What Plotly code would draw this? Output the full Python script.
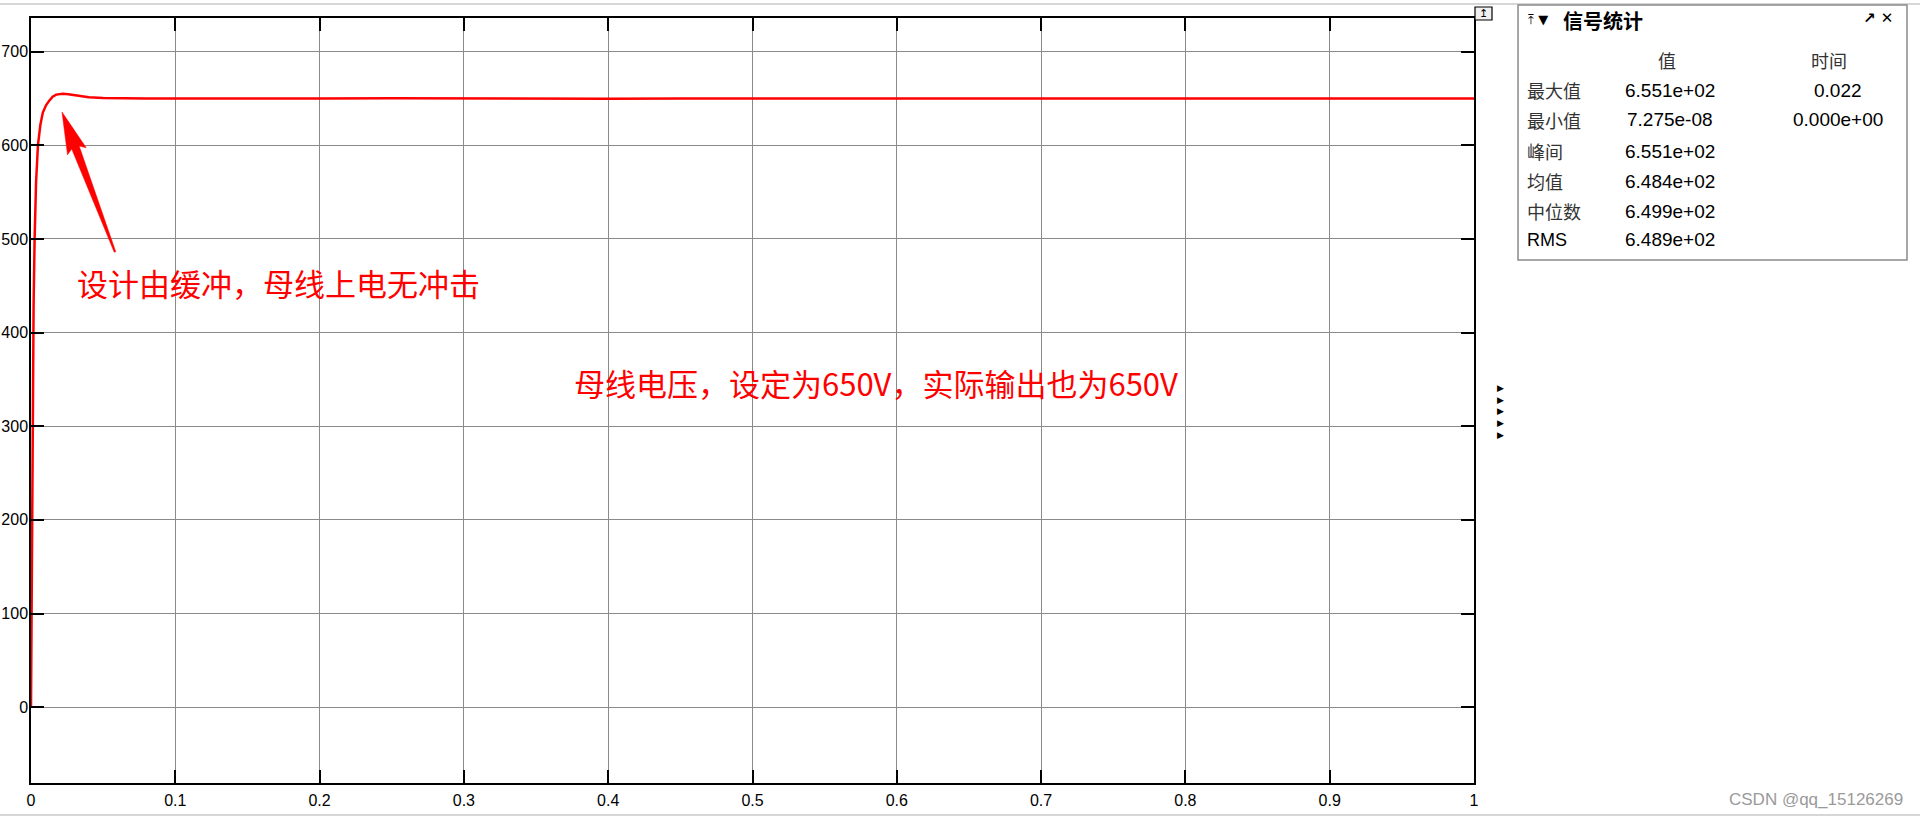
import plotly.graph_objects as go
import math

# ---------------- data ----------------
time_s = [0, 0.0004, 0.0008, 0.0012, 0.0018, 0.0025, 0.0035, 0.0048, 0.0065, 0.0082,
          0.0105, 0.0128, 0.0150, 0.0175, 0.0200, 0.0220, 0.0260, 0.0300, 0.0350,
          0.0400, 0.0500, 0.0600, 0.0800, 0.1000, 0.1500, 0.2000, 0.2500, 0.3000,
          0.3500, 0.4000, 0.4500, 0.5000, 0.5500, 0.6000, 0.6500, 0.7000, 0.7500,
          0.8000, 0.8500, 0.9000, 0.9500, 1.0000]
voltage = [0, 120, 250, 350, 430, 500, 560, 600, 622, 635,
           643, 648, 652, 654.2, 655.0, 655.1, 654.6, 653.5, 652.3,
           651.3, 650.5, 650.1, 649.9, 650.1, 649.8, 650.0, 650.2, 649.9,
           650.1, 649.8, 650.0, 650.2, 649.9, 650.0, 650.1, 649.9, 650.0,
           650.1, 649.9, 650.0, 650.1, 650.0]

x_ticks = [0, 0.1, 0.2, 0.3, 0.4, 0.5, 0.6, 0.7, 0.8, 0.9, 1]
x_tick_labels = ["0", "0.1", "0.2", "0.3", "0.4", "0.5", "0.6", "0.7", "0.8", "0.9", "1"]
y_ticks = [0, 100, 200, 300, 400, 500, 600, 700]

stat_names = ["最大值", "最小值", "峰间", "均值", "中位数", "RMS"]
stat_values = ["6.551e+02", "7.275e-08", "6.551e+02", "6.484e+02", "6.499e+02", "6.489e+02"]
stat_times = ["0.022", "0.000e+00", "", "", "", ""]

# ---------------- layout geometry ----------------
W, H = 1920, 818
L, R, T, B = 31, 1474, 18, 783


def px(x):
    return (x - L) / (R - L)


def py(y):
    return (B - y) / (B - T)


fig = go.Figure()
fig.add_trace(go.Scatter(x=time_s, y=voltage, mode="lines",
                         line=dict(color="#ff0000", width=2.5), showlegend=False,
                         hoverinfo="skip"))

axis_common = dict(showgrid=True, gridcolor="#8a8a8a", gridwidth=1, automargin=False,
                   showline=True, linecolor="black", linewidth=1.5, mirror="ticks",
                   ticks="inside", ticklen=13, tickcolor="black", tickwidth=1.5,
                   zeroline=False, tickfont=dict(family="Liberation Sans, Arial", size=16, color="black"))

fig.update_layout(
    width=W, height=H, autosize=False,
    margin=dict(l=L, r=W - R, t=T, b=H - B, pad=0, autoexpand=False),
    plot_bgcolor="white", paper_bgcolor="white",
    xaxis=dict(range=[0, 1], tickvals=x_ticks, ticktext=x_tick_labels, ticklabelstandoff=2, **axis_common),
    yaxis=dict(range=[-81, 736], tickvals=y_ticks, ticklabelstandoff=-2, **axis_common),
)

shapes = []
annotations = []

# tapered arrow (pixel geometry -> paper)
tail = (115, 252)
tip = (62, 112)
dx, dy = tip[0] - tail[0], tip[1] - tail[1]
ln = math.hypot(dx, dy)
ux, uy = dx / ln, dy / ln
nx, ny = -uy, ux
Lh, hw, sw_h, sw_t = 38, 10, 4, 0.8
bx, by = tip[0] - ux * Lh, tip[1] - uy * Lh
pts = [
    (tail[0] + nx * sw_t, tail[1] + ny * sw_t),
    (bx + nx * sw_h, by + ny * sw_h),
    (bx + nx * hw - ux * 4, by + ny * hw - uy * 4),
    tip,
    (bx - nx * hw - ux * 4, by - ny * hw - uy * 4),
    (bx - nx * sw_h, by - ny * sw_h),
    (tail[0] - nx * sw_t, tail[1] - ny * sw_t),
]
path = "M " + " L ".join(f"{px(a):.5f},{py(b):.5f}" for a, b in pts) + " Z"
shapes.append(dict(type="path", xref="paper", yref="paper", path=path,
                   fillcolor="#ff0000", line=dict(color="#ff0000", width=0.5), layer="above"))

# text annotations in plot
annotations.append(dict(xref="paper", yref="paper", x=px(75), y=py(282), xanchor="left", yanchor="middle",
                        text="设计由缓冲，母线上电无冲击", showarrow=False,
                        font=dict(family="Noto Sans CJK SC", size=31, color="#ff0000")))
annotations.append(dict(xref="paper", yref="paper", x=px(572), y=py(382), xanchor="left", yanchor="middle",
                        text="母线电压，设定为650V，实际输出也为650V", showarrow=False,
                        font=dict(family="Noto Sans CJK SC", size=31, color="#ff0000")))

# window chrome lines
shapes.append(dict(type="line", xref="paper", yref="paper", x0=px(0), x1=px(1920), y0=py(4), y1=py(4),
                   line=dict(color="#c8c8c8", width=1.5)))
shapes.append(dict(type="line", xref="paper", yref="paper", x0=px(0), x1=px(1920), y0=py(815), y1=py(815),
                   line=dict(color="#c8c8c8", width=1.5)))

# small button at the top-right of the axes
shapes.append(dict(type="rect", xref="paper", yref="paper", x0=px(1475), x1=px(1492), y0=py(7), y1=py(20),
                   line=dict(color="black", width=1.2), fillcolor="#f0f0f0"))
annotations.append(dict(xref="paper", yref="paper", x=px(1483.5), y=py(13.5), text="↥", showarrow=False,
                        font=dict(family="DejaVu Sans", size=11, color="black"), xanchor="center", yanchor="middle"))

# triangles on the right
annotations.append(dict(xref="paper", yref="paper", x=px(1500), y=py(412), xanchor="center", yanchor="middle",
                        text="<br>".join(["▶"] * 5), showarrow=False,
                        font=dict(family="DejaVu Sans", size=9, color="black")))

# statistics panel
shapes.append(dict(type="rect", xref="paper", yref="paper", x0=px(1518), x1=px(1907), y0=py(5), y1=py(260),
                   line=dict(color="#8a8a8a", width=1.5), fillcolor="white"))
annotations.append(dict(xref="paper", yref="paper", x=px(1526), y=py(20), xanchor="left", yanchor="middle",
                        text="⤒ ▼", showarrow=False,
                        font=dict(family="DejaVu Sans", size=13, color="black")))
annotations.append(dict(xref="paper", yref="paper", x=px(1561), y=py(21), xanchor="left", yanchor="middle",
                        text="<b>信号统计</b>", showarrow=False,
                        font=dict(family="Noto Sans CJK SC", size=20, color="black")))
annotations.append(dict(xref="paper", yref="paper", x=px(1895), y=py(18), xanchor="right", yanchor="middle",
                        text="<b>↗ ✕</b>", showarrow=False,
                        font=dict(family="DejaVu Sans", size=15, color="black")))
annotations.append(dict(xref="paper", yref="paper", x=px(1667), y=py(60), xanchor="center", yanchor="middle",
                        text="值", showarrow=False,
                        font=dict(family="Noto Sans CJK SC", size=18, color="#333333")))
annotations.append(dict(xref="paper", yref="paper", x=px(1829), y=py(60), xanchor="center", yanchor="middle",
                        text="时间", showarrow=False,
                        font=dict(family="Noto Sans CJK SC", size=18, color="#333333")))
row_y = [90, 120, 151, 181, 211, 240]
for i, (nm, val, tm) in enumerate(zip(stat_names, stat_values, stat_times)):
    yy = py(row_y[i])
    annotations.append(dict(xref="paper", yref="paper", x=px(1525), y=yy, xanchor="left", yanchor="middle",
                            text=nm, showarrow=False,
                            font=dict(family="Liberation Sans, Noto Sans CJK SC" if nm == "RMS" else "Noto Sans CJK SC",
                                      size=18, color="black" if nm == "RMS" else "#333333")))
    annotations.append(dict(xref="paper", yref="paper", x=px(1670), y=yy, xanchor="center", yanchor="middle",
                            text=val, showarrow=False,
                            font=dict(family="Liberation Sans, Arial", size=19, color="black")))
    if tm:
        annotations.append(dict(xref="paper", yref="paper", x=px(1838), y=yy, xanchor="center", yanchor="middle",
                                text=tm, showarrow=False,
                                font=dict(family="Liberation Sans, Arial", size=19, color="black")))

# watermark
annotations.append(dict(xref="paper", yref="paper", x=px(1905), y=py(799), xanchor="right", yanchor="middle",
                        text="CSDN @qq_15126269", showarrow=False,
                        font=dict(family="Liberation Sans, Arial", size=17, color="#9a9a9a")))

fig.update_layout(shapes=shapes, annotations=annotations)

fig.write_html("out.html", config={"displayModeBar": False},
               post_script="document.body.style.margin='0';document.body.style.overflow='hidden';")
